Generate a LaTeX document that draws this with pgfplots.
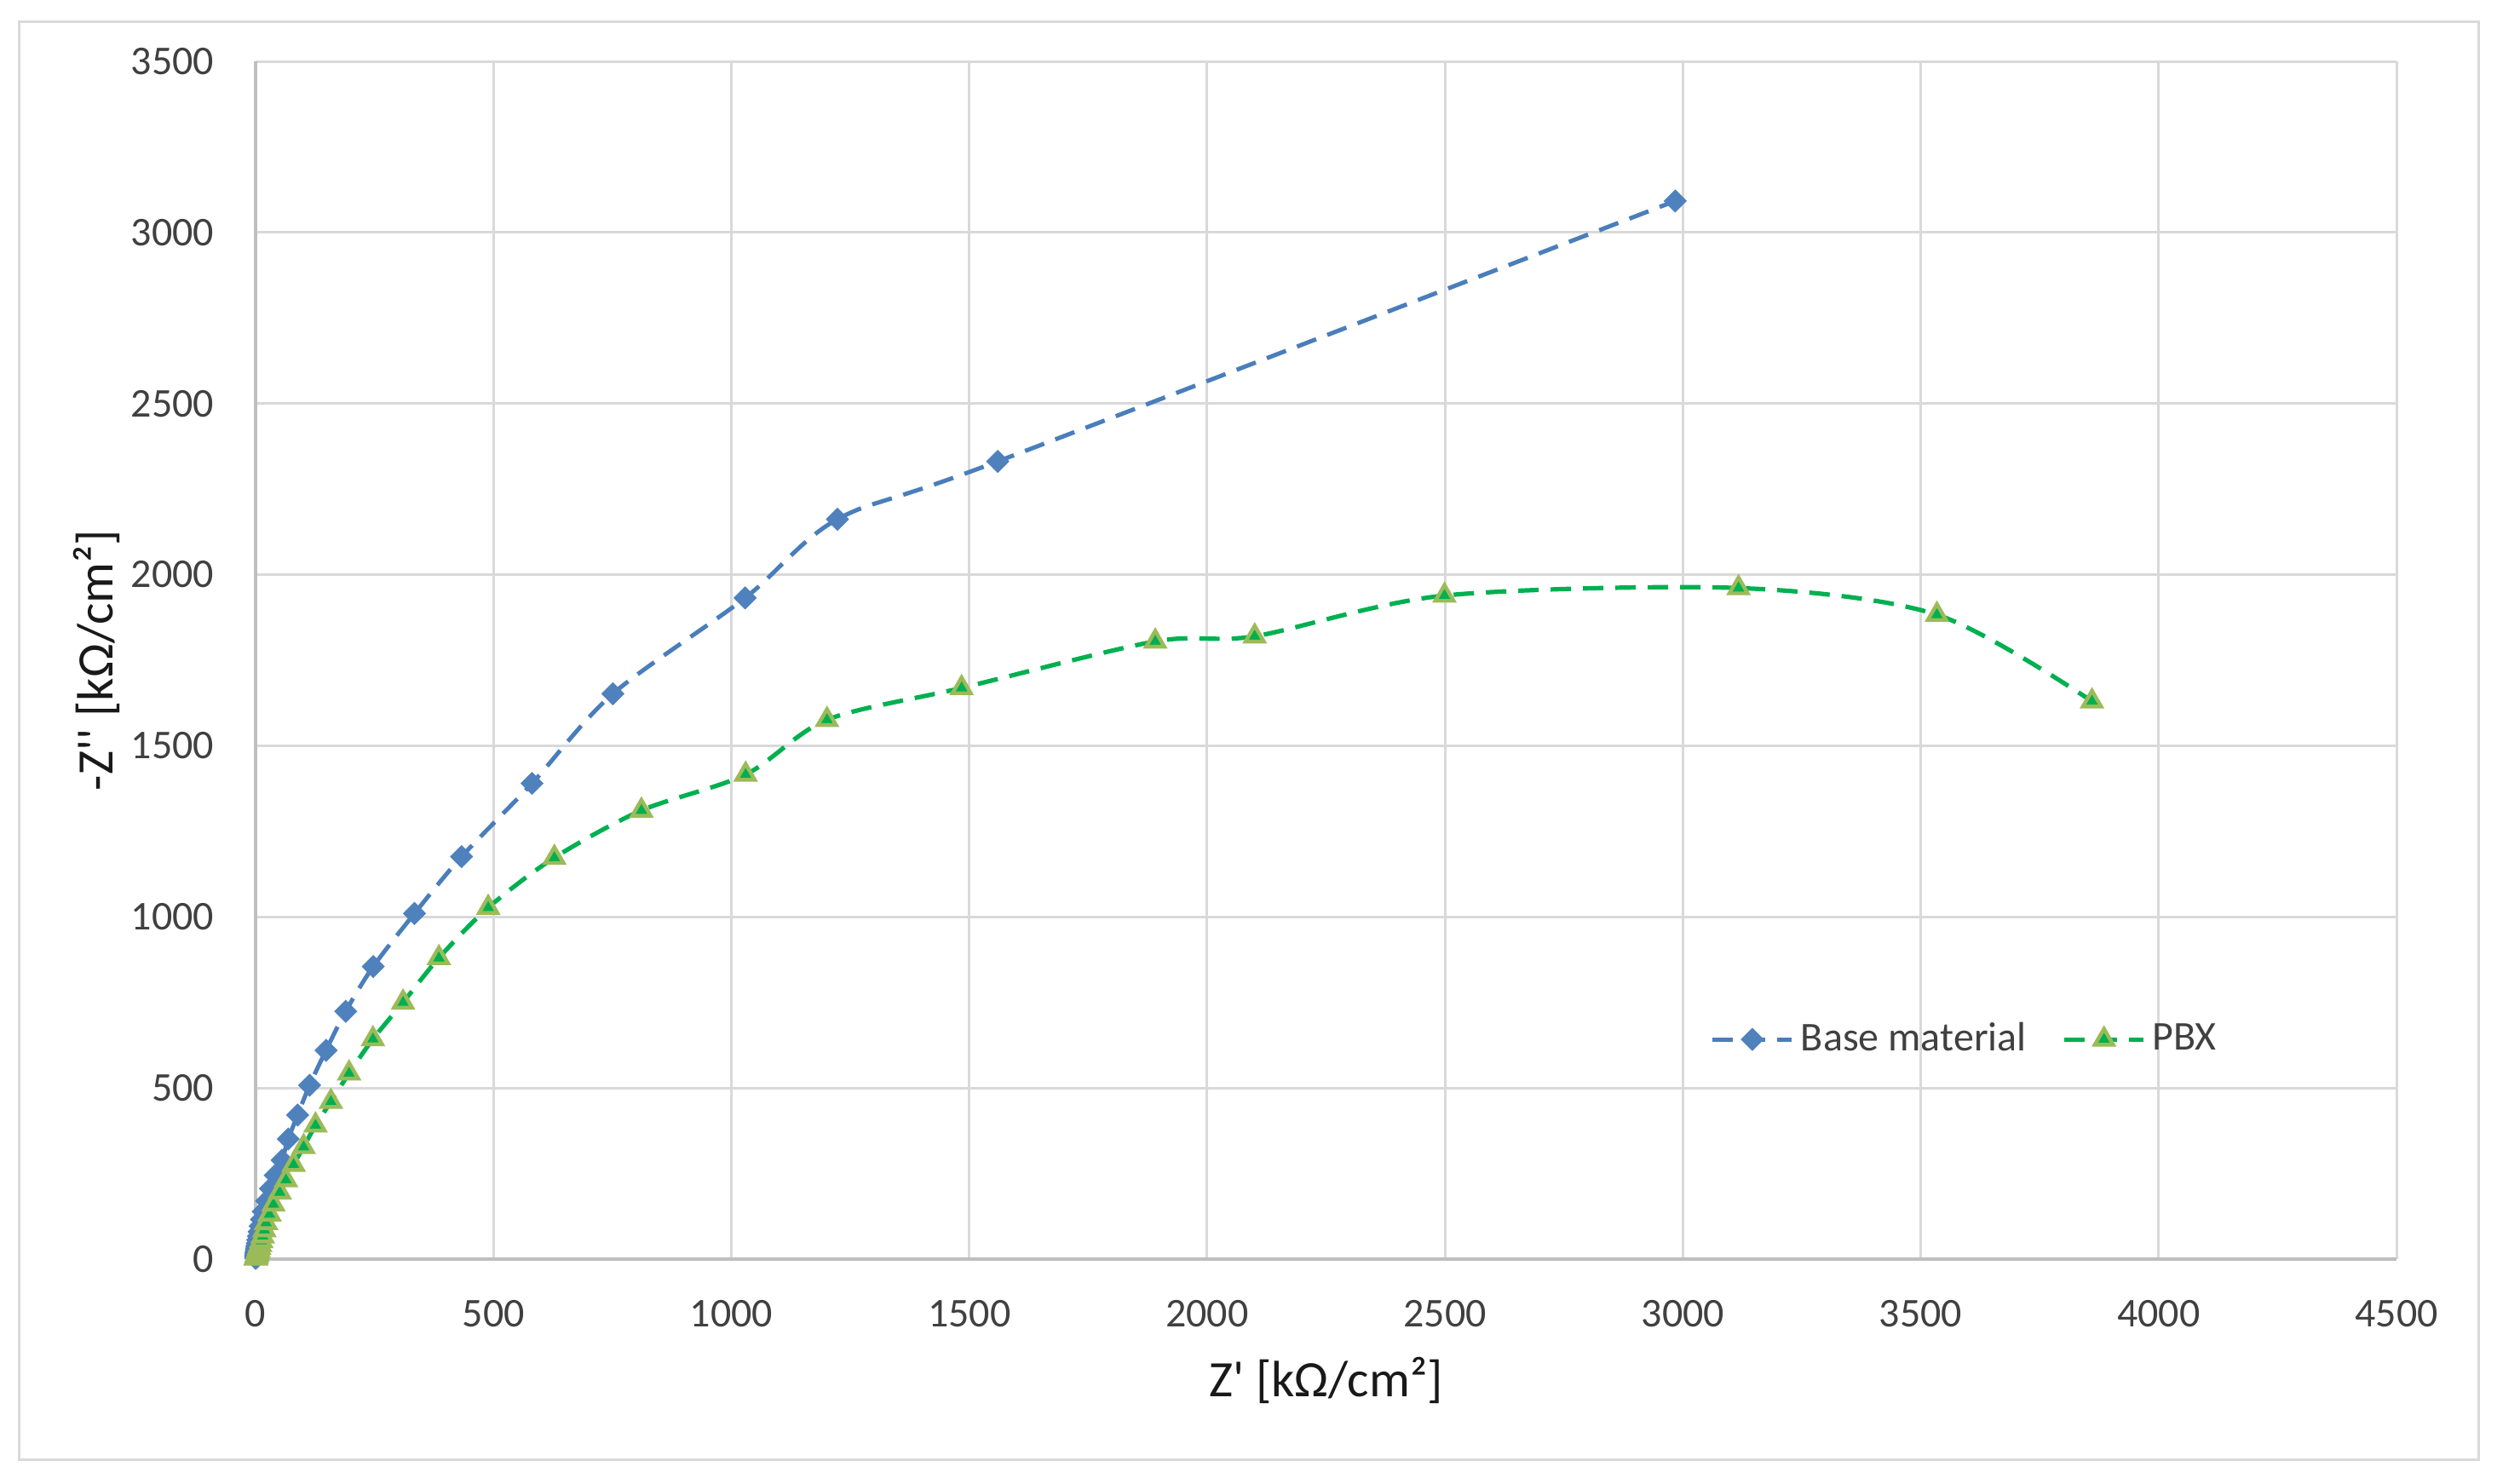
\documentclass[border=0pt]{standalone}
\usepackage{fontspec}
\setmainfont{Carlito}[Ligatures=TeXOff]
\usepackage{pgfplots}
\pgfplotsset{compat=1.18}
\definecolor{sblue}{HTML}{4A7EBB}
\definecolor{mblue}{HTML}{4F81BD}
\definecolor{sgreen}{HTML}{00B050}
\definecolor{mgreen}{HTML}{9BBB59}
\definecolor{gridc}{HTML}{D9D9D9}
\definecolor{axc}{HTML}{BFBFBF}
\definecolor{tickc}{HTML}{404040}
\begin{document}
\begin{tikzpicture}
\path[use as bounding box] (0,0) rectangle (732.75pt,-435.5pt);
\draw[gridc, line width=0.75pt] (5.6pt,-6.3pt) rectangle (727.4pt,-428.4pt);
\begin{axis}[
  at={(75pt,-369.5pt)}, anchor=south west,
  scale only axis, width=628.25pt, height=351.5pt,
  xmin=0, xmax=4500, ymin=0, ymax=3500,
  xtick={0,500,...,4500}, ytick={0,500,...,3500},
  grid=major, major grid style={gridc, line width=0.75pt},
  axis lines*=left,
  axis line style={axc, line width=0.85pt},
  major tick length=0pt,
  /pgf/number format/assume math mode=true,
  /pgf/number format/1000 sep={},
  ticklabel style={font=\fontsize{12}{14}\selectfont, text=tickc},
  yticklabel style={anchor=east, inner sep=0pt, xshift=-12pt},
  xticklabel style={anchor=north, inner sep=0pt, yshift=-12pt},
  xlabel={Z' [kΩ/cm²]},
  ylabel={-Z'' [kΩ/cm²]},
  every axis x label/.style={at={(axis description cs:0.5,-0.1152)}, anchor=base, font=\fontsize{15}{18}\selectfont, text=black!90},
  every axis y label/.style={at={(axis description cs:-0.0665,0.5)}, rotate=90, anchor=base, font=\fontsize{15}{18}\selectfont, text=black!90},
  legend columns=2,
  legend style={at={(axis cs:3057,642)}, anchor=west, draw=none, fill=none, inner sep=0pt,
    font=\fontsize{12}{14}\selectfont, text=tickc,
    /tikz/every even column/.append style={column sep=8.5pt}},
  legend image code/.code={\draw[mark repeat=2, mark phase=2, #1] plot coordinates {(0pt,0pt) (11.6pt,0pt) (23.25pt,0pt)};},
]
\addplot[sblue, line width=1.25pt, dash pattern=on 6pt off 3.5pt, smooth, tension=0.5,
  mark=square*, mark size=2.3pt, mark options={solid, rotate=45, fill=mblue, draw=mblue, line width=0.2pt}]
coordinates {
(0.1,2) (0.2,5) (0.3,8) (0.4,10) (0.5,12) (0.7,15) (0.9,18) (1.2,22) (1.6,27) (2.1,32)
(2.7,38) (3.5,46) (4.5,56) (5.8,67) (7.5,80) (9.5,96) (12.4,116) (16.1,139) (23.3,170)
(31.1,206) (41.2,245) (55.6,289) (68.7,351) (88.4,421) (113.5,508) (148.1,610) (189.4,724)
(247.3,855) (334,1010) (433,1176) (581,1390) (751,1652) (1029,1932) (1223,2162) (1560,2331) (2984,3092)
};
\addlegendentry{Base material}
\addplot[sgreen, line width=1.3pt, dash pattern=on 6pt off 3.5pt, smooth, tension=0.5,
  mark=triangle*, mark size=3.1pt, mark options={solid, fill=sgreen, draw=mgreen, line width=1.1pt}]
coordinates {
(0.4,2) (0.7,3) (1,4.5) (1.3,6) (1.7,8) (2.2,10) (2.9,13) (3.7,17) (4.7,21) (6,27) (7.5,34)
(9.5,42) (12,53) (15,67) (18.5,85) (22.1,106) (29.3,131) (37.6,160) (50.8,195) (63.9,231)
(80,276) (101,328) (126,391) (158.3,460) (196.5,543) (246.7,643) (310,750) (385.3,880)
(489,1027) (628,1173) (811,1311) (1030,1416) (1201,1576) (1484,1669) (1891,1805) (2100,1820)
(2499,1939) (3117,1961) (3534,1883) (3860,1630)
};
\addlegendentry{PBX}
\end{axis}
\end{tikzpicture}
\end{document}
